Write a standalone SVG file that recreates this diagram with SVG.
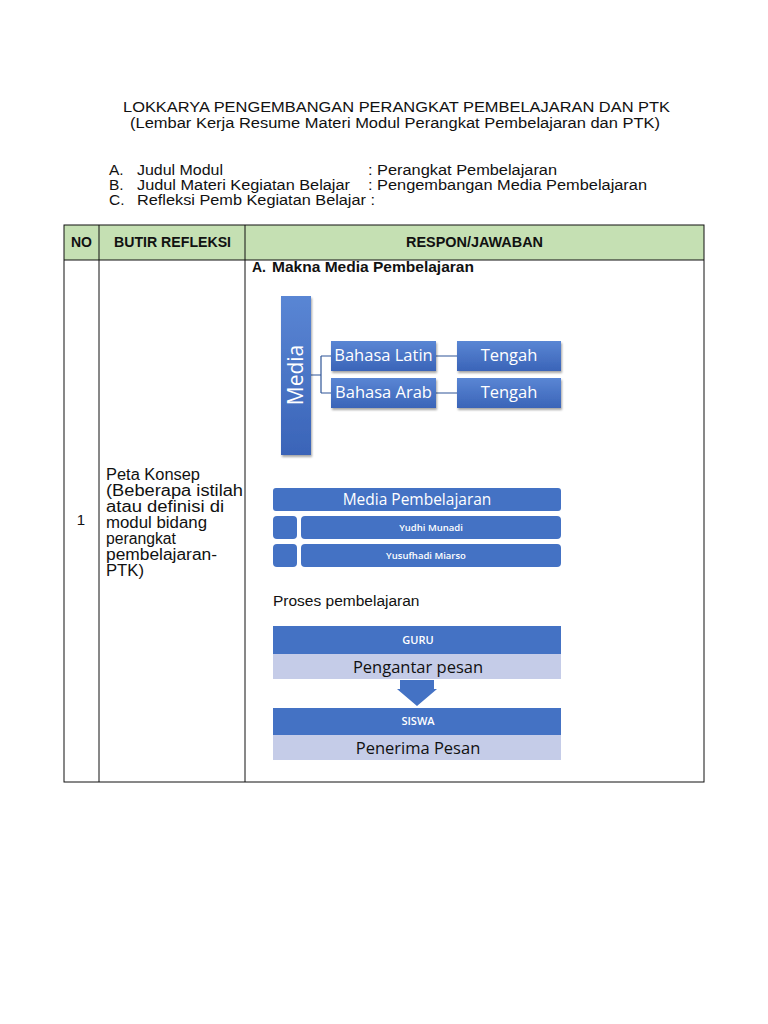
<svg xmlns="http://www.w3.org/2000/svg" width="768" height="1024" viewBox="0 0 768 1024">
<defs>
<filter id="sh" x="-10%" y="-10%" width="130%" height="140%"><feDropShadow dx="1" dy="2" stdDeviation="1.2" flood-color="#000" flood-opacity="0.35"/></filter>
<linearGradient id="gb" x1="0" y1="0" x2="0" y2="1"><stop offset="0" stop-color="#5a86d4"/><stop offset="1" stop-color="#3a64b8"/></linearGradient>
</defs>
<style>
.t{font-family:"Liberation Sans",Arial,sans-serif;fill:#111}
.c{font-family:"Open Sans","Noto Sans",sans-serif}
.bl{fill:#4472c4}
.lb{fill:#c5cce8}
.w{fill:#fff}
.ln{stroke:#111;stroke-width:1;fill:none}
.cn{stroke:#2f5597;stroke-width:1.2;fill:none}
</style>
<rect width="768" height="1024" fill="#fff"/>
<g id="title">
<text class="t" x="123" y="112" font-size="15.5" textLength="547" lengthAdjust="spacingAndGlyphs">LOKKARYA PENGEMBANGAN PERANGKAT PEMBELAJARAN DAN PTK</text>
<text class="t" x="130" y="128" font-size="15.5" textLength="530" lengthAdjust="spacingAndGlyphs">(Lembar Kerja Resume Materi Modul Perangkat Pembelajaran dan PTK)</text>
</g>
<g id="info" font-size="15.5">
<text class="t" x="109" y="175">A.</text><text class="t" x="137" y="175" textLength="86" lengthAdjust="spacingAndGlyphs">Judul Modul</text><text class="t" x="368" y="175" textLength="189" lengthAdjust="spacingAndGlyphs">: Perangkat Pembelajaran</text>
<text class="t" x="109" y="190">B.</text><text class="t" x="137" y="190" textLength="213" lengthAdjust="spacingAndGlyphs">Judul Materi Kegiatan Belajar</text><text class="t" x="368" y="190" textLength="279" lengthAdjust="spacingAndGlyphs">: Pengembangan Media Pembelajaran</text>
<text class="t" x="109" y="205">C.</text><text class="t" x="137" y="205" textLength="238" lengthAdjust="spacingAndGlyphs">Refleksi Pemb Kegiatan Belajar :</text>
</g>
<g id="table">
<rect x="64" y="225" width="640" height="35" fill="#c5e0b3"/>
<rect x="64" y="225" width="640" height="557" class="ln"/>
<line x1="64" y1="260" x2="704" y2="260" class="ln"/>
<line x1="99" y1="225" x2="99" y2="782" class="ln"/>
<line x1="245" y1="225" x2="245" y2="782" class="ln"/>
<text class="t" x="81.5" y="247" font-size="14" font-weight="bold" text-anchor="middle">NO</text>
<text class="t" x="114" y="247" font-size="14" font-weight="bold" textLength="117" lengthAdjust="spacingAndGlyphs">BUTIR REFLEKSI</text>
<text class="t" x="406" y="247" font-size="14" font-weight="bold" textLength="137" lengthAdjust="spacingAndGlyphs">RESPON/JAWABAN</text>
<text class="t" x="81" y="525" font-size="15" text-anchor="middle">1</text>
<g font-size="16">
<text class="t" x="106" y="480" textLength="94" lengthAdjust="spacingAndGlyphs">Peta Konsep</text>
<text class="t" x="106" y="496" textLength="137" lengthAdjust="spacingAndGlyphs">(Beberapa istilah</text>
<text class="t" x="106" y="512" textLength="118" lengthAdjust="spacingAndGlyphs">atau definisi di</text>
<text class="t" x="106" y="528" textLength="101" lengthAdjust="spacingAndGlyphs">modul bidang</text>
<text class="t" x="106" y="544" textLength="70" lengthAdjust="spacingAndGlyphs">perangkat</text>
<text class="t" x="106" y="560" textLength="111" lengthAdjust="spacingAndGlyphs">pembelajaran-</text>
<text class="t" x="106" y="576" textLength="38" lengthAdjust="spacingAndGlyphs">PTK)</text>
</g>
<text class="t" x="252" y="272" font-size="14" font-weight="bold">A.</text>
<text class="t" x="272" y="272" font-size="14" font-weight="bold" textLength="202" lengthAdjust="spacingAndGlyphs">Makna Media Pembelajaran</text>
</g>
<g id="connectors">
<path class="cn" d="M311 375 H321 M321 356 V393 M321 356 H331 M321 393 H331"/>
<path class="cn" d="M436 356 H457 M436 393 H457"/>
</g>
<g id="media">
<rect x="281" y="296" width="30" height="159" fill="url(#gb)" filter="url(#sh)"/>
<text class="c w" x="0" y="0" font-size="21" text-anchor="middle" transform="translate(303 375) rotate(-90)">Media</text>
</g>
<g id="bahasa-latin"><rect x="331" y="341" width="105" height="30" fill="url(#gb)" filter="url(#sh)"/><text class="c w" x="383.5" y="361" font-size="16.5" text-anchor="middle">Bahasa Latin</text></g>
<g id="tengah1"><rect x="457" y="341" width="104" height="30" fill="url(#gb)" filter="url(#sh)"/><text class="c w" x="509" y="361" font-size="16.5" text-anchor="middle">Tengah</text></g>
<g id="bahasa-arab"><rect x="331" y="378" width="105" height="30" fill="url(#gb)" filter="url(#sh)"/><text class="c w" x="383.5" y="398" font-size="16.5" text-anchor="middle">Bahasa Arab</text></g>
<g id="tengah2"><rect x="457" y="378" width="104" height="30" fill="url(#gb)" filter="url(#sh)"/><text class="c w" x="509" y="398" font-size="16.5" text-anchor="middle">Tengah</text></g>
<g id="media-pembelajaran"><rect class="bl" x="273" y="488" width="288" height="23" rx="3"/><text class="c w" x="417" y="505" font-size="15.5" text-anchor="middle">Media Pembelajaran</text></g>
<g id="yudhi"><rect class="bl" x="273" y="516" width="24" height="23" rx="4"/><rect class="bl" x="301" y="516" width="260" height="23" rx="4"/><text class="c w" x="431" y="531" font-size="9.5" font-weight="600" text-anchor="middle">Yudhi Munadi</text></g>
<g id="yusufhadi"><rect class="bl" x="273" y="544" width="24" height="23" rx="4"/><rect class="bl" x="301" y="544" width="260" height="23" rx="4"/><text class="c w" x="426" y="559" font-size="9.5" font-weight="600" text-anchor="middle">Yusufhadi Miarso</text></g>
<text class="t" x="273" y="606" font-size="15.5">Proses pembelajaran</text>
<g id="guru"><rect class="bl" x="273" y="626" width="288" height="28"/><text class="c w" x="418" y="644" font-size="11" font-weight="600" text-anchor="middle">GURU</text><rect class="lb" x="273" y="654" width="288" height="25"/><text class="c" x="418" y="673" font-size="16.5" font-weight="500" fill="#111" text-anchor="middle">Pengantar pesan</text></g>
<g id="arrow"><polygon class="bl" points="400,680 434,680 434,689 437,689 417,706 397,689 400,689"/></g>
<g id="siswa"><rect class="bl" x="273" y="708" width="288" height="27"/><text class="c w" x="418" y="725" font-size="11" font-weight="600" text-anchor="middle">SISWA</text><rect class="lb" x="273" y="735" width="288" height="25"/><text class="c" x="418" y="754" font-size="16.5" font-weight="500" fill="#111" text-anchor="middle">Penerima Pesan</text></g>
</svg>
